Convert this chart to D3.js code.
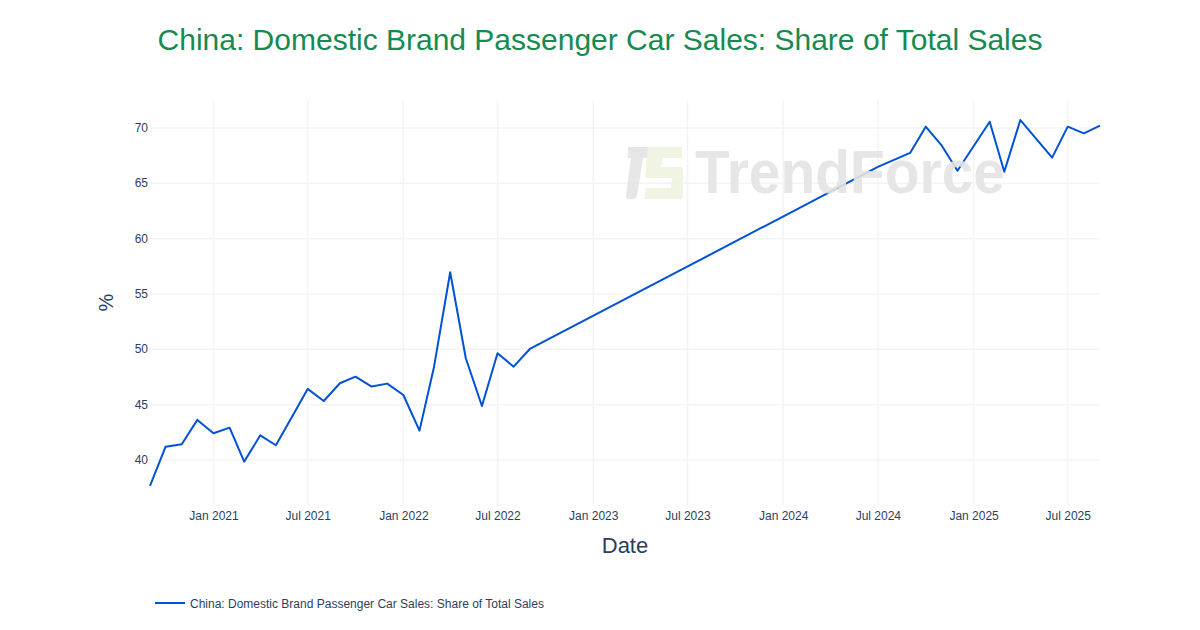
<!DOCTYPE html>
<html>
<head>
<meta charset="utf-8">
<script src="https://cdn.jsdelivr.net/npm/d3@7"></script>
<style>
  body { margin: 0; background: #fff; }
  svg text { font-family: "Liberation Sans", Arial, sans-serif; }
</style>
</head>
<body>
<svg id="chart"></svg>
<script>
// monthly readings, gaps where the source has no value
const dates = [
    '2020-09', '2020-10', '2020-11', '2020-12',
    '2021-01', '2021-02', '2021-03', '2021-04', '2021-05', '2021-06',
    '2021-07', '2021-08', '2021-09', '2021-10', '2021-11', '2021-12',
    '2022-01', '2022-02', '2022-03', '2022-04', '2022-05', '2022-06',
    '2022-07', '2022-08', '2022-09',
    '2024-07', '2024-09', '2024-10', '2024-11', '2024-12',
    '2025-02', '2025-03', '2025-04', '2025-06', '2025-07', '2025-08', '2025-09'
];
const shares = [
    37.65, 41.2, 41.42, 43.62,
    42.41, 42.92, 39.85, 42.23, 41.33, 43.91,
    46.42, 45.33, 46.93, 47.53, 46.63, 46.9,
    45.87, 42.65, 48.43, 56.96, 49.19, 44.88,
    49.64, 48.43, 50.03,
    66.48, 67.75, 70.12, 68.4, 66.14,
    70.57, 66.05, 70.72, 67.32, 70.12, 69.52, 70.21
];
const yTicks = [40, 45, 50, 55, 60, 65, 70];
const seriesName = 'China: Domestic Brand Passenger Car Sales: Share of Total Sales';

const width = 1200, height = 630;
const margin = { top: 100, right: 100, bottom: 125, left: 150 };
const plotW = width - margin.left - margin.right;
const plotH = height - margin.top - margin.bottom;
const textColor = '#2a3f5f';

const parseMonth = d3.timeParse('%Y-%m');
const data = dates.map((d, i) => ({ date: parseMonth(d), value: shares[i] }));

const x = d3.scaleTime()
    .domain(d3.extent(data, d => d.date))
    .range([0, plotW]);
const y = d3.scaleLinear()
    .domain([35.93, 72.53])
    .range([plotH, 0]);

const svg = d3.select('#chart')
    .attr('width', width)
    .attr('height', height);

svg.append('text')
    .attr('x', width / 2)
    .attr('y', 50)
    .attr('text-anchor', 'middle')
    .attr('fill', '#178a50')
    .style('font-size', '30px')
    .text(seriesName);

const plot = svg.append('g')
    .attr('transform', 'translate(' + margin.left + ',' + margin.top + ')');

// grid
const xTicks = d3.timeMonth.every(6).range(new Date(2021, 0, 1), new Date(2025, 8, 2));
plot.append('g')
    .selectAll('line')
    .data(xTicks)
    .join('line')
    .attr('x1', d => x(d)).attr('x2', d => x(d))
    .attr('y1', 0).attr('y2', plotH)
    .attr('stroke', '#f3f4f6')
    .attr('stroke-width', 1.5);
plot.append('g')
    .selectAll('line')
    .data(yTicks)
    .join('line')
    .attr('x1', 0).attr('x2', plotW)
    .attr('y1', d => y(d)).attr('y2', d => y(d))
    .attr('stroke', '#f3f4f6')
    .attr('stroke-width', 1.5);

// watermark
const wm = svg.append('g').attr('opacity', 0.9);
wm.append('path')
    .attr('d', 'M628,147 L659,147 L656,158 L643,158 L637,196 Q636,199 632,199 L629,199 Q626,199 626,195 L631,158 L628,158 Z')
    .attr('fill', '#e4e4e4');
wm.append('path')
    .attr('d', 'M648,147 L682,147 L682,158 L663,158 L661,167 L681,167 Q683,167 683,170 L683,196 Q683,199 680,199 L644,199 L646,188 L671,188 L672,178 L645,178 Z')
    .attr('fill', '#eef4df');
wm.append('text')
    .attr('x', 695)
    .attr('y', 193)
    .attr('textLength', 310)
    .attr('lengthAdjust', 'spacingAndGlyphs')
    .attr('fill', '#e4e4e4')
    .style('font-size', '62px')
    .style('font-weight', 'bold')
    .text('TrendForce');

// axes
const xAxis = plot.append('g')
    .attr('transform', 'translate(0,' + plotH + ')')
    .call(d3.axisBottom(x).tickValues(xTicks).tickFormat(d3.timeFormat('%b %Y')).tickSize(0).tickPadding(6));
xAxis.select('.domain').remove();
xAxis.selectAll('text').attr('fill', textColor).style('font-size', '12px');

const yAxis = plot.append('g')
    .call(d3.axisLeft(y).tickValues(yTicks).tickSize(0).tickPadding(2));
yAxis.select('.domain').remove();
yAxis.selectAll('text').attr('fill', textColor).style('font-size', '12px').attr('dy', '0.3em');

plot.append('text')
    .attr('x', plotW / 2)
    .attr('y', plotH + 48)
    .attr('text-anchor', 'middle')
    .attr('fill', textColor)
    .style('font-size', '22px')
    .text('Date');

plot.append('text')
    .attr('transform', 'rotate(-90)')
    .attr('x', -plotH / 2)
    .attr('y', -37)
    .attr('text-anchor', 'middle')
    .attr('fill', textColor)
    .style('font-size', '20px')
    .text('%');

// series line
plot.append('path')
    .datum(data)
    .attr('fill', 'none')
    .attr('stroke', '#0052d4')
    .attr('stroke-width', 2)
    .attr('stroke-linejoin', 'round')
    .attr('d', d3.line()
        .x(d => x(d.date))
        .y(d => y(d.value)));

// legend
const legend = svg.append('g').attr('transform', 'translate(155,603)');
legend.append('line')
    .attr('x1', 0).attr('x2', 30)
    .attr('stroke', '#0052d4')
    .attr('stroke-width', 2);
legend.append('text')
    .attr('x', 35)
    .attr('y', 1)
    .attr('dy', '0.35em')
    .attr('fill', textColor)
    .style('font-size', '12px')
    .text(seriesName);
</script>
</body>
</html>
